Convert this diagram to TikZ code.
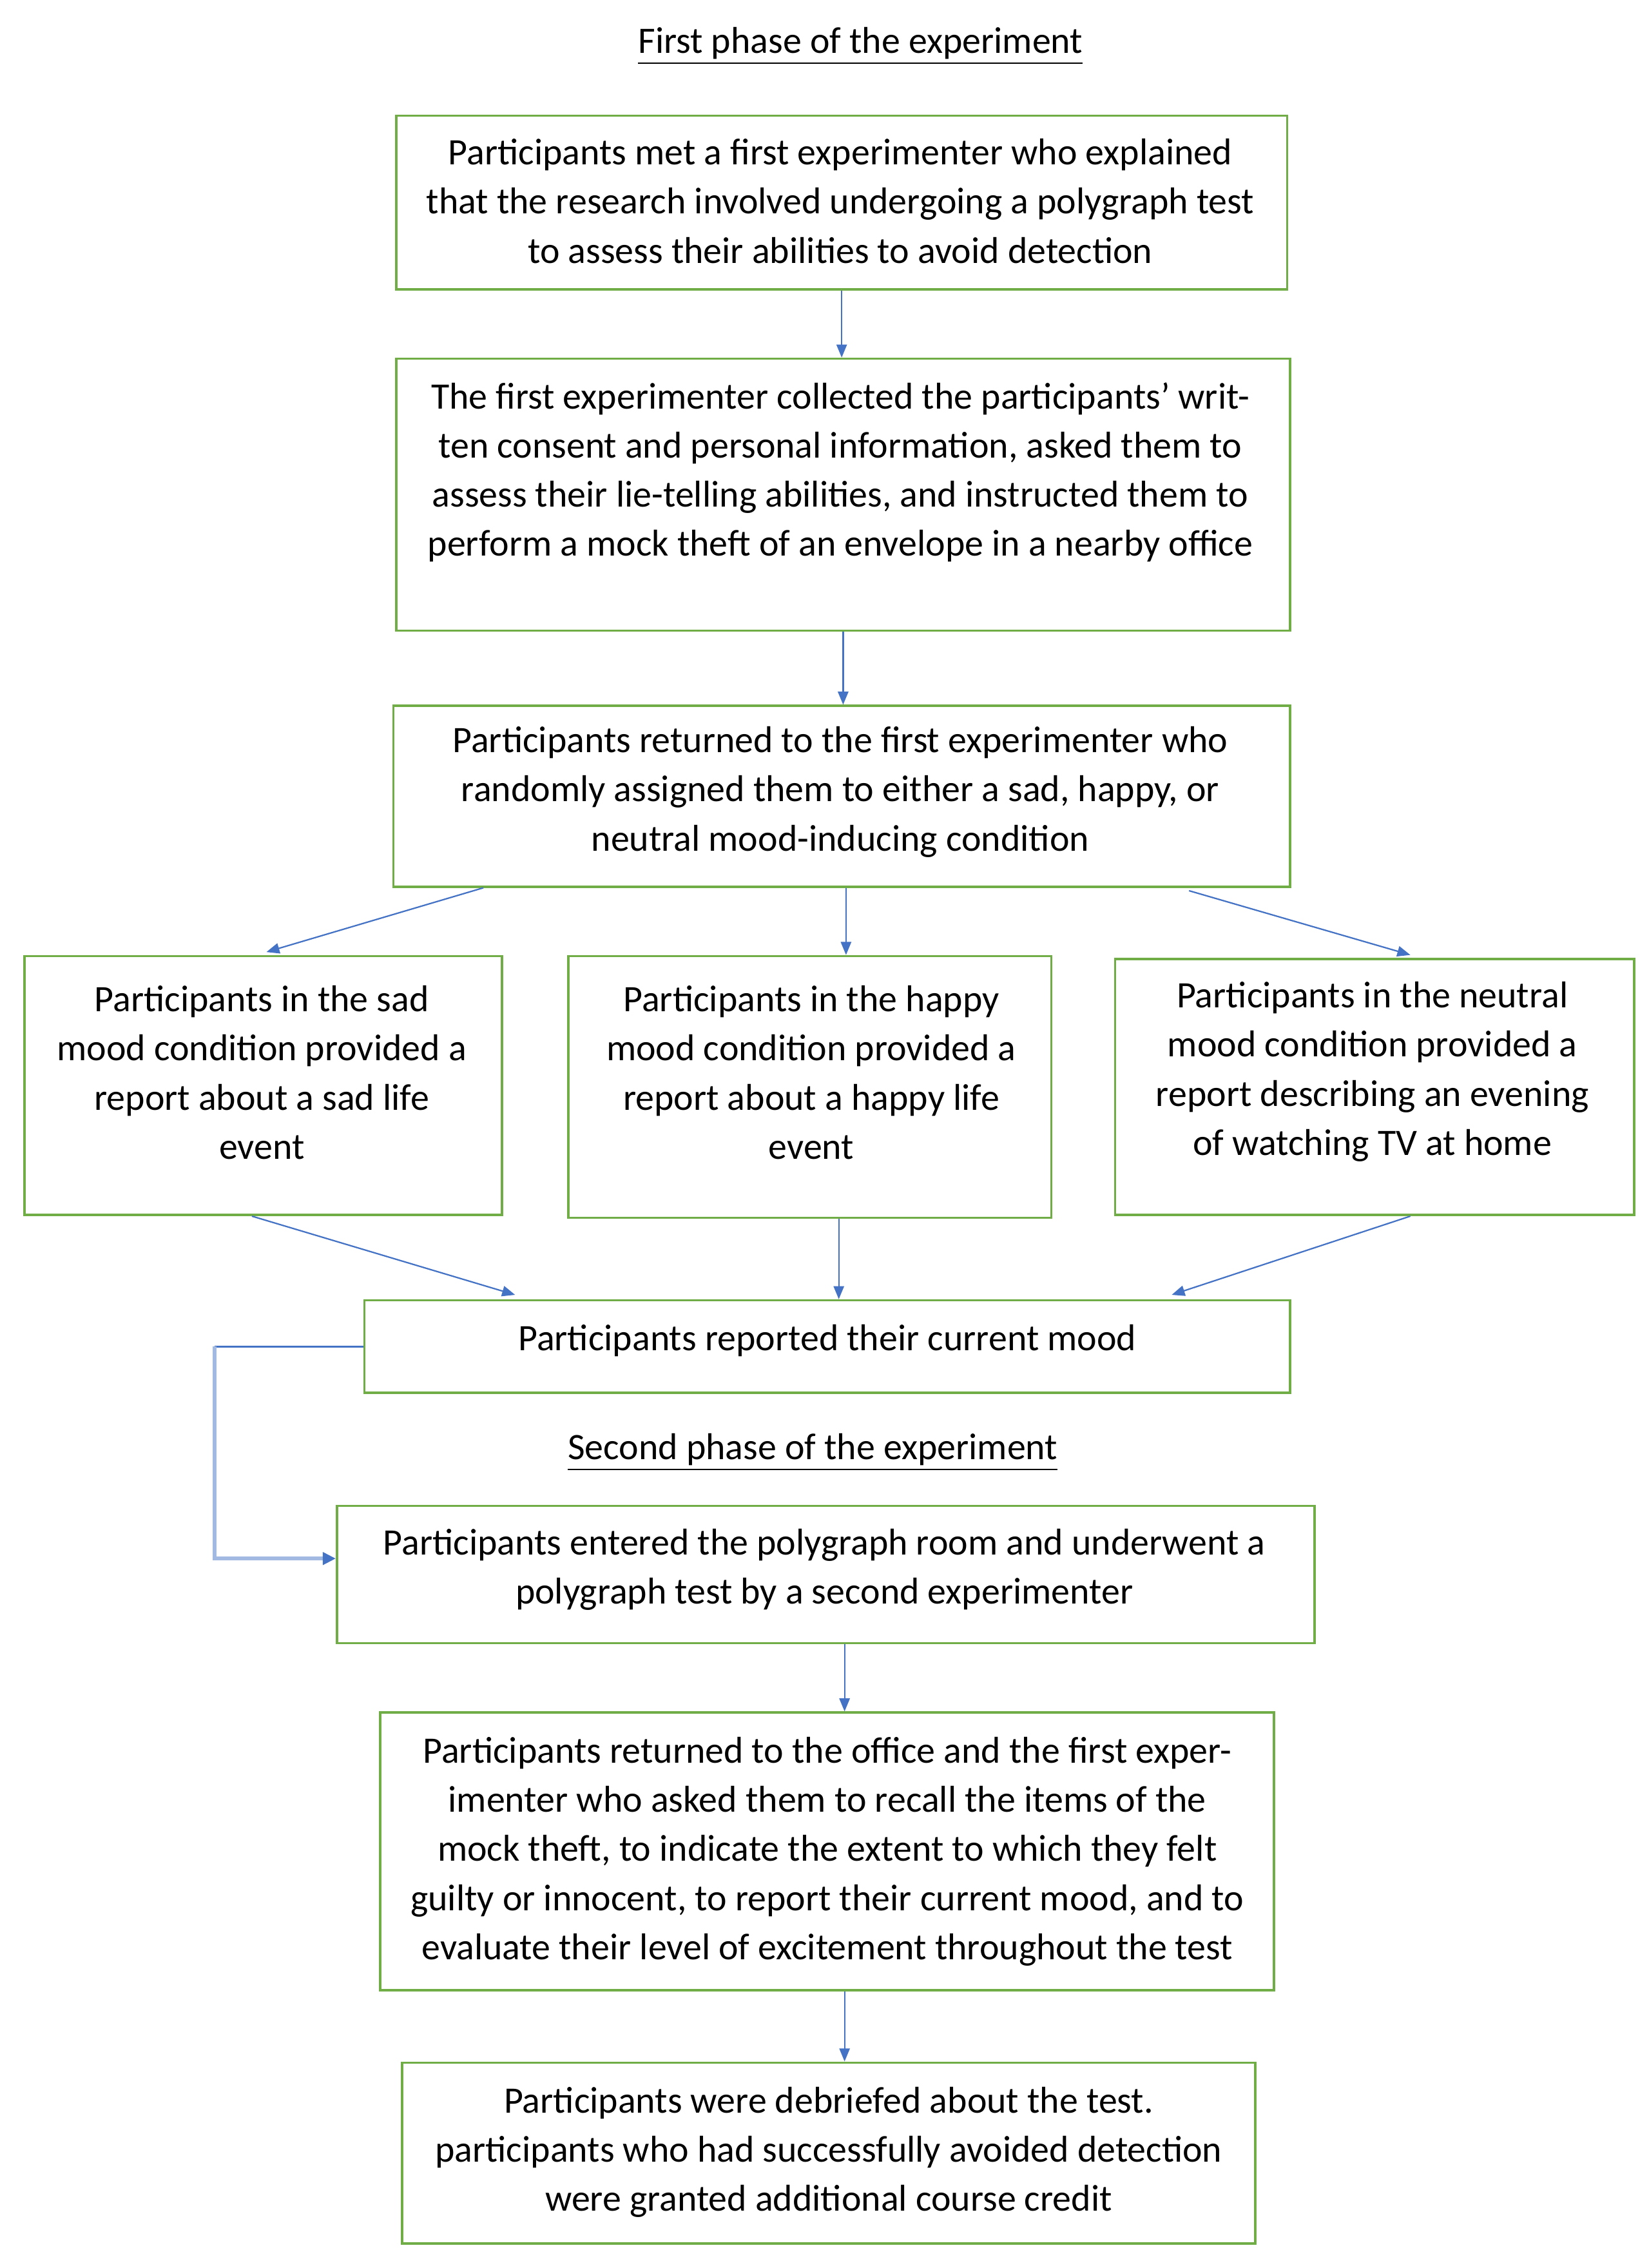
\documentclass[tikz,border=0pt]{standalone}
\usepackage{fontspec}
\setmainfont{Carlito}
\usetikzlibrary{arrows.meta,calc}
\definecolor{bgreen}{HTML}{70AD47}
\definecolor{ablue}{HTML}{4472C4}
\definecolor{lblue}{HTML}{A2B9E2}
\begin{document}
\begin{tikzpicture}[x=0.5pt,y=-0.5pt,
  box/.style={draw=bgreen, line width=0.8pt, inner sep=0pt},
  txt/.style={align=center, font=\fontsize{12.9}{17}\selectfont, inner sep=0pt},
  tip/.style={-{Triangle[length=4.5pt,width=3.6pt]}},
  arr/.style={draw=ablue, line width=0.5pt, tip}]
\useasboundingbox (0,0) rectangle (1140,1568);

\node[txt] (h1) at (595,32) {\underline{First phase of the experiment}};
\node[txt] (h2) at (562,1004) {\underline{Second phase of the experiment}};

\node[box, minimum width=308pt, minimum height=60pt] (b1) at (582,140) {};
\node[box, minimum width=309pt, minimum height=94pt] (b2) at (583,342) {};
\node[box, minimum width=310pt, minimum height=62.5pt] (b3) at (582,550.5) {};
\node[box, minimum width=165pt, minimum height=89.5pt] (b4) at (182,750.5) {};
\node[box, minimum width=167pt, minimum height=90.5pt] (b5) at (560,751.5) {};
\node[box, minimum width=179.5pt, minimum height=88.5pt] (b6) at (950.5,751.5) {};
\node[box, minimum width=320pt, minimum height=32pt] (b7) at (572,931) {};
\node[box, minimum width=338pt, minimum height=47.5pt] (b8) at (571,1088.5) {};
\node[box, minimum width=309pt, minimum height=96pt] (b9) at (572,1280) {};
\node[box, minimum width=295pt, minimum height=62.5pt] (b10) at (573,1488.5) {};

\node[txt] (t1) at (581,139) {Participants met a first experimenter who explained\\that the research involved undergoing a polygraph test\\to assess their abilities to avoid detection};
\node[txt] (t2) at (581,326.5) {The first experimenter collected the participants’ writ-\\ten consent and personal information, asked them to\\assess their lie-telling abilities, and instructed them to\\perform a mock theft of an envelope in a nearby office};
\node[txt] (t3) at (581,547.5) {Participants returned to the first experimenter who\\randomly assigned them to either a sad, happy, or\\neutral mood-inducing condition};
\node[txt] (t4) at (181,741.5) {Participants in the sad\\mood condition provided a\\report about a sad life\\event};
\node[txt] (t5) at (561,741.5) {Participants in the happy\\mood condition provided a\\report about a happy life\\event};
\node[txt] (t6) at (949,741) {Participants in the neutral\\mood condition provided a\\report describing an evening\\of watching TV at home};
\node[txt] (t7) at (572,927) {Participants reported their current mood};
\node[txt] (t8) at (570,1085) {Participants entered the polygraph room and underwent a\\polygraph test by a second experimenter};
\node[txt] (t9) at (572,1280) {Participants returned to the office and the first exper-\\imenter who asked them to recall the items of the\\mock theft, to indicate the extent to which they felt\\guilty or innocent, to report their current mood, and to\\evaluate their level of excitement throughout the test};
\node[txt] (t10) at (573,1488) {Participants were debriefed about the test.\\participants who had successfully avoided detection\\were granted additional course credit};

\coordinate (s35) at ($(b3.south)+(3,0)$);
\coordinate (s57) at ($(b5.south)+(20,0)$);
\coordinate (s89) at ($(b8.south)+(13,0)$);
\coordinate (s910) at ($(b9.south)+(12,0)$);

\draw[arr] (b1.south) -- (b1.south |- b2.north);
\draw[arr] (b2.south) -- (b2.south |- b3.north);
\draw[arr] ($(b3.south west)+(63,0)$) -- ($(b4.north west)+(168,-2)$);
\draw[arr] (s35) -- (s35 |- b5.north);
\draw[arr] ($(b3.south west)+(551,2)$) -- ($(b6.north west)+(205,-2)$);
\draw[arr] ($(b4.south west)+(158,0)$) -- ($(b7.north west)+(105,-3)$);
\draw[arr] (s57) -- (s57 |- b7.north);
\draw[arr] ($(b6.south west)+(205,0)$) -- ($(b7.north west)+(559,-3)$);
\draw[draw=ablue, line width=0.6pt] (b7.west) -- ++(-103,0) coordinate (e1);
\draw[draw=lblue, line width=1.3pt, -{Triangle[length=4.5pt,width=4.2pt,color=ablue]}] (e1) |- ($(b8.west)+(0,-11)$);
\draw[arr] (s89) -- (s89 |- b9.north);
\draw[arr] (s910) -- (s910 |- b10.north);
\end{tikzpicture}
\end{document}
